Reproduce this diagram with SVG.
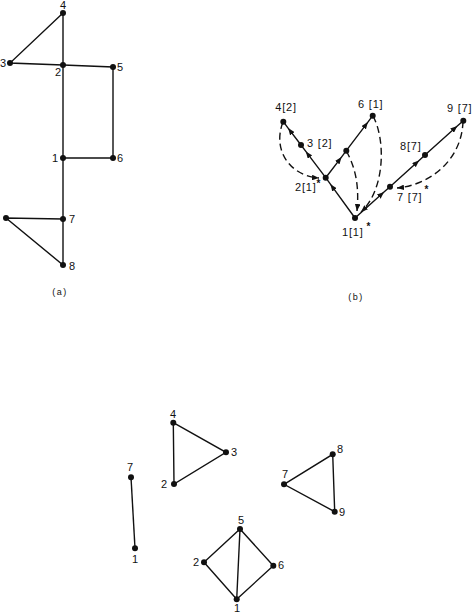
<svg xmlns="http://www.w3.org/2000/svg" width="474" height="613" viewBox="0 0 474 613">
<style>
.e{stroke:#111;stroke-width:1.4;fill:none}
.d{stroke:#111;stroke-width:1.4;fill:none;stroke-dasharray:7 4}
.n{fill:#111}
text{font-family:"Liberation Sans",Arial,sans-serif;font-size:11px;fill:#111}
.b{letter-spacing:0.8px}
.c{text-anchor:middle}
.s{font-size:10px;font-weight:bold}
</style>
<defs>
<marker id="ah" viewBox="0 0 10 8" refX="10" refY="4" markerWidth="7" markerHeight="5.6" markerUnits="userSpaceOnUse" orient="auto"><path d="M0,0L10,4L0,8z" fill="#111"/></marker>
</defs>
<rect width="474" height="613" fill="#fff"/>
<g id="connectors">
<path class="e" d="M63,13L10,63L63,65L113,67L113,158L63,158"/>
<path class="e" d="M63,13L63,265L6,218L63,219"/>
<path class="e" marker-mid="url(#ah)" d="M355,218L330.4,184.2L325.7,177.7"/>
<path class="e" marker-mid="url(#ah)" d="M325.7,177.7L305.8,151.4L301,145"/>
<path class="e" marker-mid="url(#ah)" d="M301,145L288.1,128.1L283.3,121.7"/>
<path class="e" marker-mid="url(#ah)" d="M325.7,177.7L341.5,157.1L346.3,150.7"/>
<path class="e" marker-mid="url(#ah)" d="M346.3,150.7L367.9,122.1L372.7,115.7"/>
<path class="e" marker-mid="url(#ah)" d="M355,218L384,192L390,186.7"/>
<path class="e" marker-mid="url(#ah)" d="M390,186.7L419.1,160.4L425,155"/>
<path class="e" marker-mid="url(#ah)" d="M425,155L457.3,126L463.3,120.7"/>
<path class="d" marker-end="url(#ah)" d="M283,122C272,150 290,176 319,178"/>
<path class="d" marker-end="url(#ah)" d="M346.3,151C357,170 359,190 357,211"/>
<path class="d" marker-end="url(#ah)" d="M373,116C386,140 385,190 361,212"/>
<path class="d" marker-end="url(#ah)" d="M463,121C462,160 430,185 397,188"/>
<path class="e" d="M173.3,422.7L226,452.3L174,484Z"/>
<path class="e" d="M131,477.3L135,548.3"/>
<path class="e" d="M284,484.3L332.7,454.3L334.7,511.7Z"/>
<path class="e" d="M240,529L204,562.3L236.7,599.3L273.3,565.7ZM240,529L236.7,599.3"/>
</g>
<g id="panel-a">
<g id="a4"><circle class="n" cx="63" cy="13" r="3"/><text class="c" x="63" y="9">4</text></g>
<g id="a3"><circle class="n" cx="10" cy="63" r="3"/><text x="0" y="67">3</text></g>
<g id="a2"><circle class="n" cx="63" cy="65" r="3"/><text class="c" x="58" y="76">2</text></g>
<g id="a5"><circle class="n" cx="113" cy="67" r="3"/><text x="117" y="71">5</text></g>
<g id="a1"><circle class="n" cx="63" cy="158" r="3"/><text x="52" y="162">1</text></g>
<g id="a6"><circle class="n" cx="113" cy="158" r="3"/><text x="117" y="162">6</text></g>
<g id="a7"><circle class="n" cx="63" cy="219" r="3"/><text x="69" y="223">7</text></g>
<g id="a9"><circle class="n" cx="6" cy="218" r="3"/></g>
<g id="a8"><circle class="n" cx="63" cy="265" r="3"/><text x="69" y="270">8</text></g>
<text class="c" x="60" y="295" style="font-size:9px;letter-spacing:1.5px">(a)</text>
</g>
<g id="panel-b">
<g id="b4"><circle class="n" cx="283.3" cy="121.7" r="3"/><text class="c b" x="286" y="111">4[2]</text></g>
<g id="b3"><circle class="n" cx="301" cy="145" r="3"/><text class="b" x="307" y="147">3 [2]</text></g>
<g id="b2"><circle class="n" cx="325.7" cy="177.7" r="3"/><text class="b" x="295" y="191">2[1]<tspan class="s" dy="-4">*</tspan></text></g>
<g id="bm"><circle class="n" cx="346.3" cy="150.7" r="3"/></g>
<g id="b6"><circle class="n" cx="372.7" cy="115.7" r="3"/><text class="b" x="358" y="108">6 [1]</text></g>
<g id="b1"><circle class="n" cx="355" cy="218" r="3"/><text class="b" x="342" y="236">1[1]<tspan class="s" dx="3" dy="-6">*</tspan></text></g>
<g id="b7"><circle class="n" cx="390" cy="186.7" r="3"/><text class="b" x="397" y="201">7 [7]<tspan class="s" dx="2" dy="-8">*</tspan></text></g>
<g id="b8"><circle class="n" cx="425" cy="155" r="3"/><text class="b" x="400" y="150">8[7]</text></g>
<g id="b9"><circle class="n" cx="463.3" cy="120.7" r="3"/><text class="b" x="447" y="112">9 [7]</text></g>
<text class="c" x="356" y="300" style="font-size:9px;letter-spacing:1.5px">(b)</text>
</g>
<g id="panel-c">
<g id="c4"><circle class="n" cx="173.3" cy="422.7" r="3"/><text class="c" x="173" y="418">4</text></g>
<g id="c3"><circle class="n" cx="226" cy="452.3" r="3"/><text x="231" y="456">3</text></g>
<g id="c2"><circle class="n" cx="174" cy="484" r="3"/><text class="c" x="164" y="488">2</text></g>
<g id="c7a"><circle class="n" cx="131" cy="477.3" r="3"/><text class="c" x="130" y="471">7</text></g>
<g id="c1a"><circle class="n" cx="135" cy="548.3" r="3"/><text class="c" x="135" y="563">1</text></g>
<g id="c8"><circle class="n" cx="332.7" cy="454.3" r="3"/><text x="337" y="453">8</text></g>
<g id="c7"><circle class="n" cx="284" cy="484.3" r="3"/><text class="c" x="285" y="478">7</text></g>
<g id="c9"><circle class="n" cx="334.7" cy="511.7" r="3"/><text x="339" y="516">9</text></g>
<g id="c5"><circle class="n" cx="240" cy="529" r="3"/><text class="c" x="241" y="524">5</text></g>
<g id="c2b"><circle class="n" cx="204" cy="562.3" r="3"/><text class="c" x="196" y="566">2</text></g>
<g id="c6"><circle class="n" cx="273.3" cy="565.7" r="3"/><text x="278" y="569">6</text></g>
<g id="c1"><circle class="n" cx="236.7" cy="599.3" r="3"/><text class="c" x="237" y="612">1</text></g>
</g>
</svg>
